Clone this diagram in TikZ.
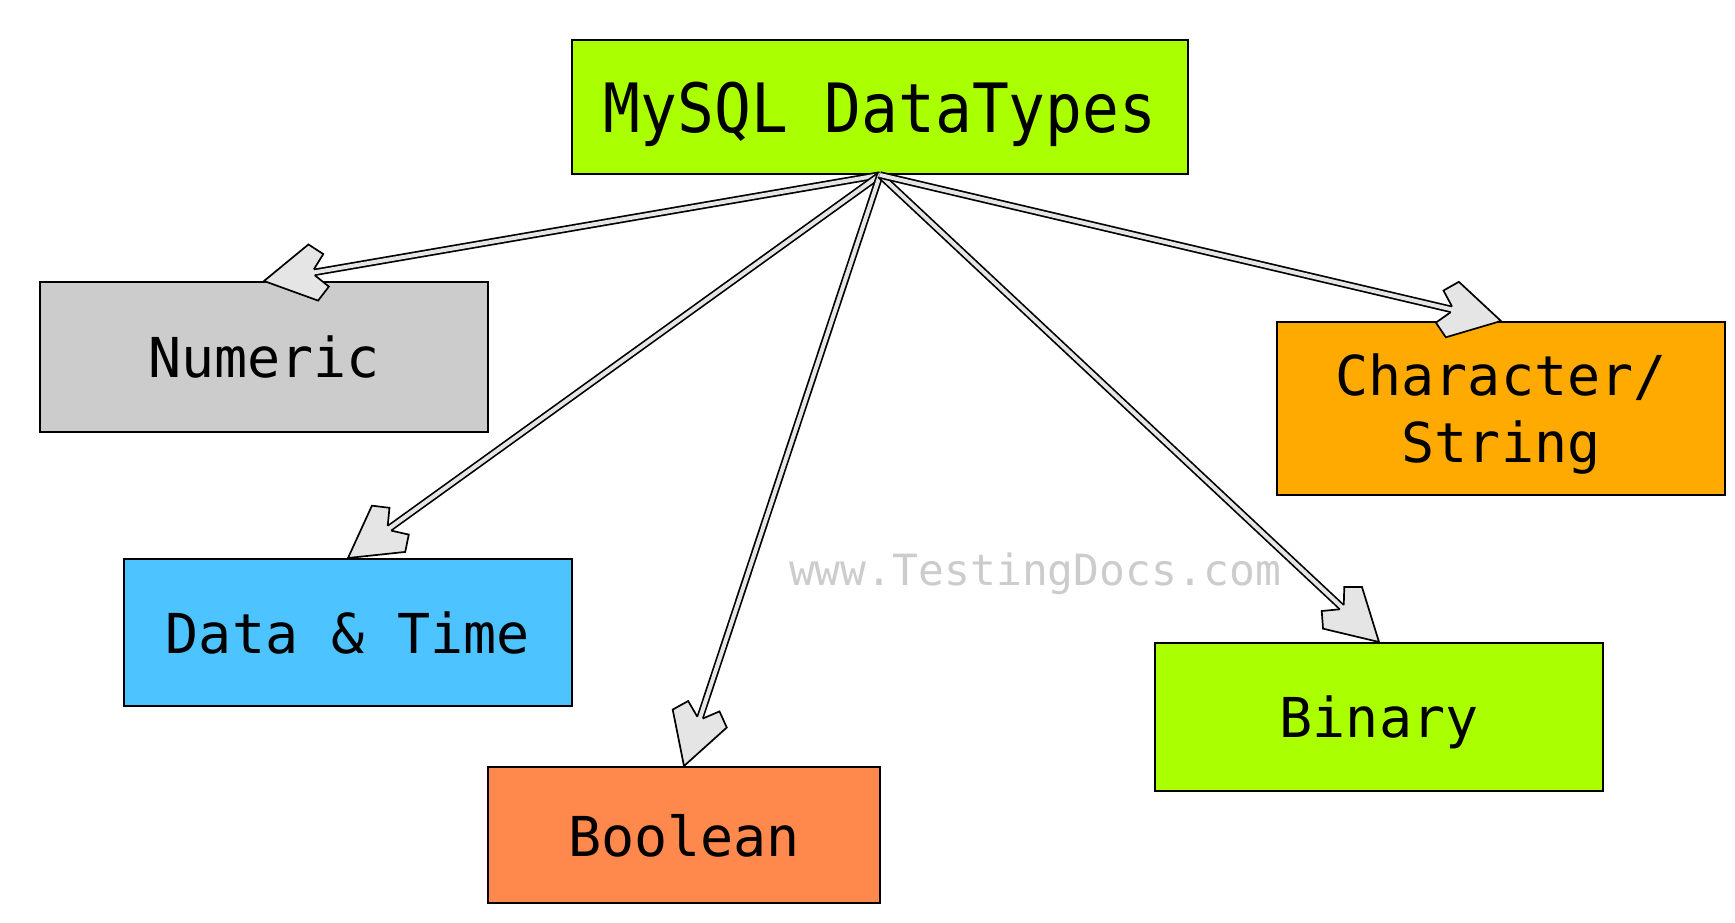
\documentclass[tikz,border=0pt]{standalone}
\usepackage{fontspec}
\newfontfamily\boxfont{DejaVu Sans Mono}
\newfontfamily\topfont[FakeStretch=0.9]{DejaVu Sans Mono}
\usetikzlibrary{calc}

\definecolor{typelime}{HTML}{AAFF00}
\definecolor{typegrey}{HTML}{CCCCCC}
\definecolor{typeorange}{HTML}{FFAA00}
\definecolor{typeblue}{HTML}{4DC3FF}
\definecolor{typecoral}{HTML}{FF884D}

\begin{document}
\begin{tikzpicture}[x=0.5pt, y=-0.5pt,
  box/.style={draw, line width=1pt, inner sep=0pt, minimum width=224pt, text depth=0pt, align=center, font=\boxfont\fontsize{27.5}{33.5}\selectfont},
  shaft/.style={draw=black, line width=0.85pt, double=gray!20, double distance=2pt, shorten >=22pt},
  head/.style={draw=black, line width=0.85pt, fill=gray!20, line join=miter}]
  \useasboundingbox (0,0) rectangle (1735,922);

  \node[box, fill=typelime, minimum width=308pt, minimum height=67pt, font=\topfont\fontsize{34}{40}\selectfont] (top) at (880,107) {MySQL DataTypes};
  \node[box, fill=typegrey, minimum height=75pt] (numeric) at (264,357) {Numeric};
  \node[box, fill=typeorange, minimum height=86.5pt] (charstring) at (1501,408.5) {Character/\\String};
  \node[box, fill=typeblue, minimum height=73.5pt] (datetime) at (348,632.5) {Data \& Time};
  \node[box, fill=typecoral, minimum width=196pt, minimum height=68pt] (boolean) at (684,835) {Boolean};
  \node[box, fill=typelime, minimum height=74pt] (binary) at (1379,717) {Binary};

  \node[text=gray!40, font=\boxfont\fontsize{21.5}{26}\selectfont, anchor=base] (site) at (1035,585) {www.TestingDocs.com};

  % hollow block arrows
  \foreach \t in {numeric,datetime,boolean,binary,charstring}{
    \draw[shaft] (top.south) -- (\t.north);
    \coordinate (b1) at ($(\t.north)!25pt!(top.south)$);
    \coordinate (b2) at ($(\t.north)!31.5pt!(top.south)$);
    \coordinate (b3) at ($(\t.north)!25.5pt!(top.south)$);
    \draw[head] ($(b3)!1.45pt!90:(top.south)$) -- ($(b2)!8.25pt!90:(top.south)$)
      -- ($(b1)!14.25pt!90:(top.south)$) -- (\t.north)
      -- ($(b1)!14.25pt!-90:(top.south)$) -- ($(b2)!8.25pt!-90:(top.south)$)
      -- ($(b3)!1.45pt!-90:(top.south)$);
  }
\end{tikzpicture}
\end{document}
